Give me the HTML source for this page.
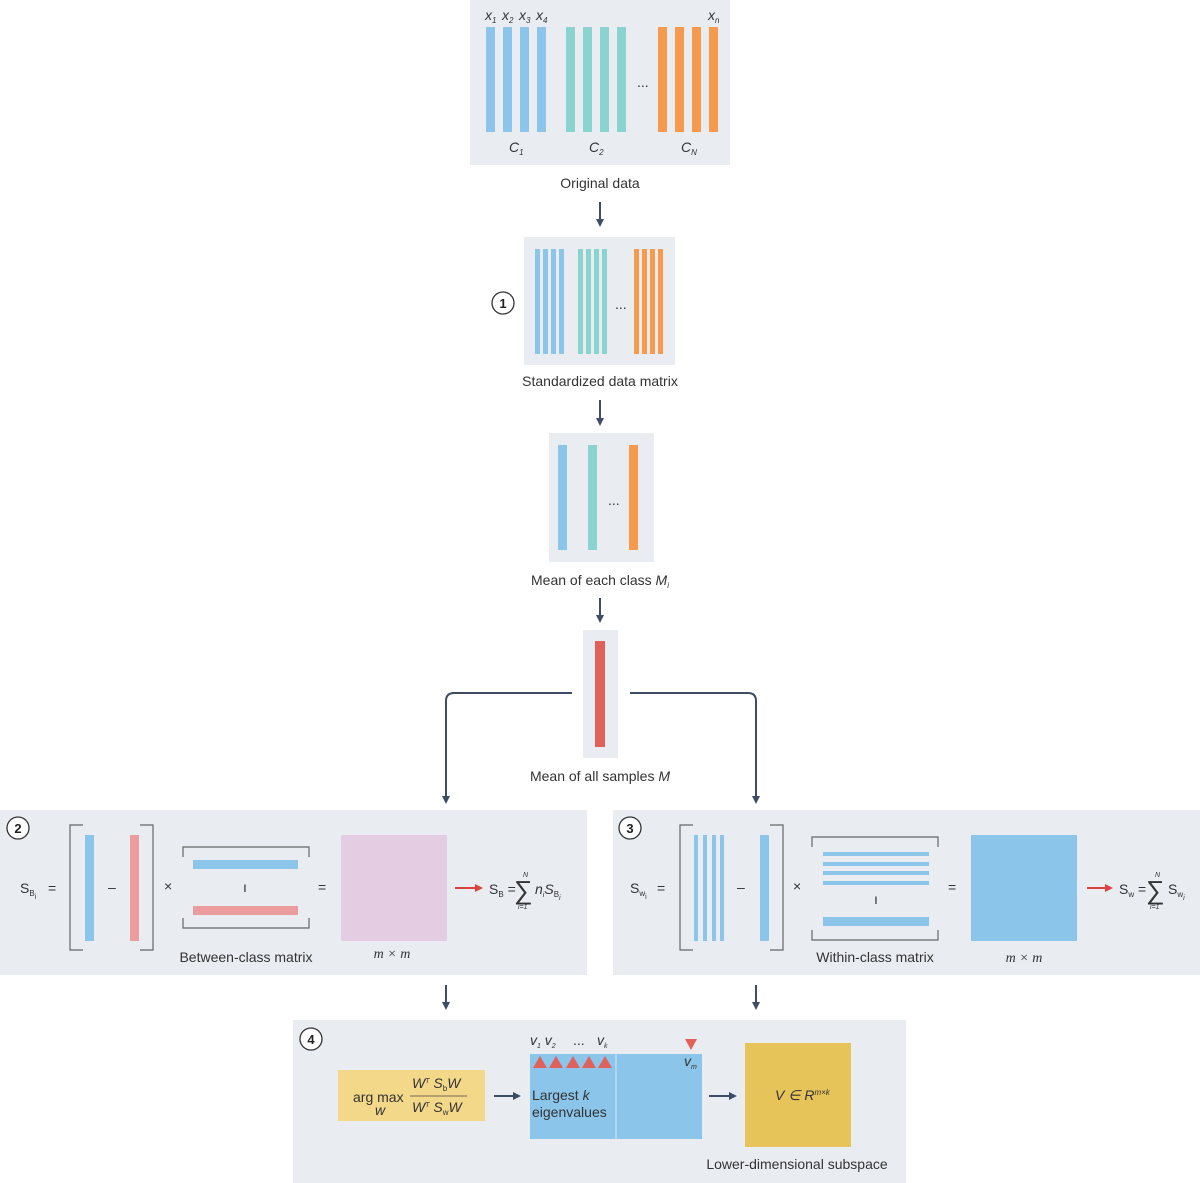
<!DOCTYPE html>
<html><head><meta charset="utf-8"><style>
body{margin:0;background:#fff}
svg{display:block;font-family:"Liberation Sans",sans-serif}
.t{font-size:14px;fill:#333}
.i{font-style:italic}
</style></head><body>
<svg width="1200" height="1183" viewBox="0 0 1200 1183" xmlns="http://www.w3.org/2000/svg">
<defs>
<marker id="ah" markerWidth="8" markerHeight="8" refX="6" refY="4" orient="auto" markerUnits="userSpaceOnUse"><path d="M0,0 L8,4 L0,8 z" fill="#3d4d66"/></marker>
<marker id="ar" markerWidth="8" markerHeight="8" refX="6" refY="4" orient="auto" markerUnits="userSpaceOnUse"><path d="M0,0 L8,4 L0,8 z" fill="#d9443f"/></marker>
</defs>
<g fill="#e9ecf1">
<rect x="470" y="0" width="260" height="165"/>
<rect x="524" y="237" width="151" height="128"/>
<rect x="549" y="433" width="105" height="129"/>
<rect x="583" y="630" width="35" height="128"/>
<rect x="0" y="810" width="587" height="165"/>
<rect x="613" y="810" width="587" height="165"/>
<rect x="293" y="1020" width="613" height="163"/>
</g>
<!-- top bars -->
<g fill="#8bc5ea"><rect x="486" y="27" width="9" height="105"/><rect x="503" y="27" width="9" height="105"/><rect x="520" y="27" width="9" height="105"/><rect x="537" y="27" width="9" height="105"/></g>
<g fill="#8bd3cf"><rect x="566" y="27" width="9" height="105"/><rect x="583" y="27" width="9" height="105"/><rect x="600" y="27" width="9" height="105"/><rect x="617" y="27" width="9" height="105"/></g>
<g fill="#f89a4e"><rect x="658" y="27" width="9" height="105"/><rect x="675" y="27" width="9" height="105"/><rect x="692" y="27" width="9" height="105"/><rect x="709" y="27" width="9" height="105"/></g>
<g class="t i" font-size="13"><text x="485" y="20">x<tspan font-size="8" dy="3">1</tspan></text><text x="502" y="20">x<tspan font-size="8" dy="3">2</tspan></text><text x="519" y="20">x<tspan font-size="8" dy="3">3</tspan></text><text x="536" y="20">x<tspan font-size="8" dy="3">4</tspan></text><text x="708" y="20">x<tspan font-size="8" dy="3">n</tspan></text>
<text x="509" y="152">C<tspan font-size="8" dy="3">1</tspan></text><text x="589" y="152">C<tspan font-size="8" dy="3">2</tspan></text><text x="681" y="152">C<tspan font-size="8" dy="3">N</tspan></text></g>
<text x="637" y="87" class="t" font-size="12">...</text>
<text x="600" y="188" class="t" text-anchor="middle">Original data</text>
<g stroke="#3d4d66" stroke-width="2" fill="none" marker-end="url(#ah)">
<line x1="600" y1="202" x2="600" y2="225"/>
<line x1="600" y1="400" x2="600" y2="424"/>
<line x1="600" y1="598" x2="600" y2="621"/>
<path d="M572,693 H454 Q446,693 446,701 V802"/>
<path d="M630,693 H748 Q756,693 756,701 V802"/>
<line x1="446" y1="985" x2="446" y2="1008"/>
<line x1="756" y1="985" x2="756" y2="1008"/>
<line x1="494" y1="1096" x2="519" y2="1096"/>
<line x1="709" y1="1096" x2="735" y2="1096"/>
</g>
<!-- box2 -->
<g fill="#8bc5ea"><rect x="535" y="249" width="5" height="105"/><rect x="543" y="249" width="5" height="105"/><rect x="551" y="249" width="5" height="105"/><rect x="559" y="249" width="5" height="105"/></g>
<g fill="#8bd3cf"><rect x="578" y="249" width="5" height="105"/><rect x="586" y="249" width="5" height="105"/><rect x="594" y="249" width="5" height="105"/><rect x="602" y="249" width="5" height="105"/></g>
<g fill="#f89a4e"><rect x="634" y="249" width="5" height="105"/><rect x="642" y="249" width="5" height="105"/><rect x="650" y="249" width="5" height="105"/><rect x="658" y="249" width="5" height="105"/></g>
<text x="615" y="309" class="t" font-size="12">...</text>
<circle cx="503" cy="303" r="11" fill="#fff" stroke="#333" stroke-width="1.3"/><text x="503" y="308" text-anchor="middle" font-size="13" font-weight="bold" fill="#222">1</text>
<text x="600" y="386" class="t" text-anchor="middle">Standardized data matrix</text>
<!-- box3 -->
<rect x="558" y="445" width="9" height="105" fill="#8bc5ea"/><rect x="588" y="445" width="9" height="105" fill="#8bd3cf"/><rect x="629" y="445" width="9" height="105" fill="#f89a4e"/>
<text x="608" y="505" class="t" font-size="12">...</text>
<text x="600" y="585" class="t" text-anchor="middle">Mean of each class <tspan class="i">M</tspan><tspan font-size="8" dy="3" class="i">i</tspan></text>
<rect x="595" y="641" width="10" height="106" fill="#e0605a"/>
<text x="600" y="781" class="t" text-anchor="middle">Mean of all samples <tspan class="i">M</tspan></text>
<!-- panel 2 -->
<circle cx="18" cy="828" r="11" fill="#fff" stroke="#333" stroke-width="1.3"/><text x="18" y="833" text-anchor="middle" font-size="13" font-weight="bold" fill="#222">2</text>
<text x="20" y="893" class="t">S<tspan font-size="8" dy="3">B</tspan><tspan font-size="7" dy="3">i</tspan></text>
<text x="48" y="893" class="t" font-size="12">=</text>
<g stroke="#666" stroke-width="1.2" fill="none"><path d="M83,825 H70 V950 H83"/><path d="M140,825 H153 V950 H140"/><path d="M183,857 V847 H309 V857"/><path d="M183,918 V928 H309 V918"/>
<path d="M693,825 H680 V950 H693"/><path d="M770,825 H783 V950 H770"/><path d="M812,847 V837 H938 V847"/><path d="M812,930 V940 H938 V930"/></g>
<rect x="85" y="835" width="9" height="106" fill="#8bc5ea"/><rect x="130" y="835" width="9" height="106" fill="#eb9c9c"/>
<text x="108" y="892" class="t">–</text><text x="164" y="891" class="t" font-size="11">×</text>
<rect x="193" y="860" width="105" height="9" fill="#8bc5ea"/><rect x="193" y="906" width="105" height="9" fill="#eb9c9c"/>
<text x="245" y="892" class="t" font-size="10" text-anchor="middle">ı</text>
<text x="318" y="892" class="t" font-size="12">=</text>
<rect x="341" y="835" width="106" height="106" fill="#e4cde3"/>
<text x="246" y="962" class="t" text-anchor="middle">Between-class matrix</text>
<text x="392" y="958" class="t i" font-family="Liberation Serif" font-size="15" text-anchor="middle">m × m</text>
<line x1="455" y1="888" x2="481" y2="888" stroke="#d9443f" stroke-width="2" marker-end="url(#ar)"/>
<text x="489" y="894" class="t" font-size="13">S<tspan font-size="8" dy="3">B</tspan><tspan dy="-3"> =</tspan></text>
<text x="514" y="899" font-size="26" fill="#333">∑</text><text x="523" y="877" font-size="7" class="i" fill="#333">N</text><text x="518" y="909" font-size="7" class="i" fill="#333">i=1</text>
<text x="535" y="894" class="t i" font-size="13">n<tspan font-size="7" dy="3">i</tspan><tspan dy="-3">S</tspan><tspan font-size="8" dy="3" font-style="normal">B</tspan><tspan font-size="7" dy="3">i</tspan></text>
<!-- panel 3 -->
<circle cx="630" cy="828" r="11" fill="#fff" stroke="#333" stroke-width="1.3"/><text x="630" y="833" text-anchor="middle" font-size="13" font-weight="bold" fill="#222">3</text>
<text x="630" y="893" class="t">S<tspan font-size="8" dy="3">w</tspan><tspan font-size="7" dy="3">i</tspan></text>
<text x="657" y="893" class="t" font-size="12">=</text>
<g fill="#8bc5ea"><rect x="694" y="835" width="4" height="106"/><rect x="703" y="835" width="4" height="106"/><rect x="712" y="835" width="4" height="106"/><rect x="720" y="835" width="4" height="106"/><rect x="760" y="835" width="9" height="106"/>
<rect x="823" y="852" width="106" height="4"/><rect x="823" y="862" width="106" height="4"/><rect x="823" y="871" width="106" height="4"/><rect x="823" y="881" width="106" height="4"/><rect x="823" y="917" width="106" height="9"/>
<rect x="971" y="835" width="106" height="106"/></g>
<text x="737" y="892" class="t">–</text><text x="793" y="891" class="t" font-size="11">×</text>
<text x="876" y="904" class="t" font-size="10" text-anchor="middle">ı</text>
<text x="948" y="892" class="t" font-size="12">=</text>
<text x="875" y="962" class="t" text-anchor="middle">Within-class matrix</text>
<text x="1024" y="962" class="t i" font-family="Liberation Serif" font-size="15" text-anchor="middle">m × m</text>
<line x1="1087" y1="888" x2="1111" y2="888" stroke="#d9443f" stroke-width="2" marker-end="url(#ar)"/>
<text x="1119" y="894" class="t" font-size="13">S<tspan font-size="8" dy="3">w</tspan><tspan dy="-3"> =</tspan></text>
<text x="1146" y="899" font-size="26" fill="#333">∑</text><text x="1155" y="877" font-size="7" class="i" fill="#333">N</text><text x="1150" y="909" font-size="7" class="i" fill="#333">i=1</text>
<text x="1168" y="894" class="t" font-size="13">S<tspan font-size="8" dy="3">w</tspan><tspan font-size="7" dy="3" class="i">i</tspan></text>
<!-- panel 4 -->
<circle cx="311" cy="1039" r="11" fill="#fff" stroke="#333" stroke-width="1.3"/><text x="311" y="1044" text-anchor="middle" font-size="13" font-weight="bold" fill="#222">4</text>
<rect x="338" y="1070" width="147" height="51" fill="#f3d88a"/>
<text x="353" y="1102" class="t">arg max</text><text x="375" y="1115" class="t i">w</text>
<line x1="410" y1="1096" x2="467" y2="1096" stroke="#444" stroke-width="0.8"/>
<text x="412" y="1088" class="t i">W<tspan font-size="7" dy="-5">T</tspan><tspan dy="5"> S</tspan><tspan font-size="8" dy="3" font-style="normal">b</tspan><tspan dy="-3">W</tspan></text>
<text x="412" y="1112" class="t i">W<tspan font-size="7" dy="-5">T</tspan><tspan dy="5"> S</tspan><tspan font-size="8" dy="3" font-style="normal">w</tspan><tspan dy="-3">W</tspan></text>
<rect x="530" y="1054" width="172" height="85" fill="#8bc5ea"/><line x1="616" y1="1054" x2="616" y2="1139" stroke="#d7e9f5" stroke-width="1"/>
<g fill="#e0605a"><path d="M533,1068 l7,-12 l7,12z"/><path d="M549,1068 l7,-12 l7,12z"/><path d="M566,1068 l7,-12 l7,12z"/><path d="M582,1068 l7,-12 l7,12z"/><path d="M598,1068 l7,-12 l7,12z"/><path d="M685,1039 h12 l-6,11z"/></g>
<text x="530" y="1045" class="t i" font-size="13">v<tspan font-size="7" dy="3">1</tspan><tspan dy="-3"> v</tspan><tspan font-size="7" dy="3">2</tspan></text>
<text x="573" y="1045" class="t" font-size="12">...</text>
<text x="597" y="1045" class="t i" font-size="13">v<tspan font-size="7" dy="3">k</tspan></text>
<text x="684" y="1066" class="t i" font-size="13">v<tspan font-size="7" dy="3">m</tspan></text>
<text x="532" y="1100" class="t" font-size="15">Largest <tspan class="i">k</tspan></text><text x="532" y="1117" class="t" font-size="15">eigenvalues</text>
<rect x="745" y="1043" width="106" height="104" fill="#e6c45a"/>
<text x="775" y="1100" class="t i">V ∈ R<tspan font-size="8" dy="-5">m×k</tspan></text>
<text x="797" y="1169" class="t" text-anchor="middle">Lower-dimensional subspace</text>
</svg>
</body></html>
